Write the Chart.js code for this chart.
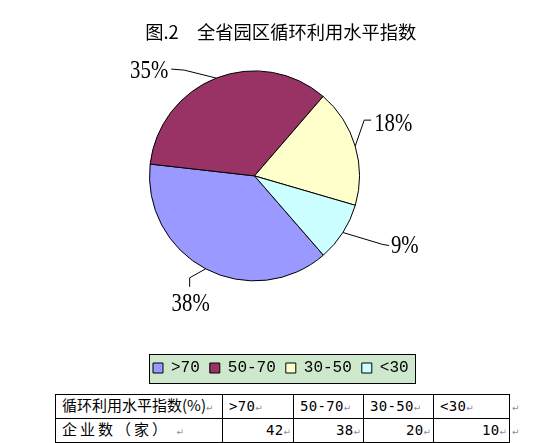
<!DOCTYPE html>
<html lang="zh">
<head>
<meta charset="utf-8">
<title>图.2 全省园区循环利用水平指数</title>
<script src="https://cdn.jsdelivr.net/npm/chart.js@4.4.0/dist/chart.umd.min.js"></script>
<style>
  html, body { margin: 0; padding: 0; background: #fff; }
  #page { position: relative; width: 547px; height: 443px; overflow: hidden; }
  #chart-box { position: absolute; left: 0; top: 0; width: 547px; height: 390px; }
  #data-table {
    position: absolute; left: 55px; top: 394px;
    border-collapse: collapse; table-layout: fixed;
    font-family: "Noto Sans CJK SC", sans-serif; font-size: 15px; color: #000;
  }
  #data-table td {
    border: 1px solid #000; height: 20px; line-height: 20px;
    padding: 0 2px 0 6px; white-space: nowrap; overflow: hidden;
  }
  #data-table td.num { text-align: right; padding-right: 2px; }
  #data-table td.tail { border: none; padding: 0 0 0 2px; }
  .lat { font-family: "DejaVu Sans Mono", monospace; font-size: 14px; letter-spacing: 0.3px; }
  .wide { letter-spacing: 3px; }
  .mark { color: #8a8aa8; font-family: "DejaVu Sans", sans-serif; font-size: 9px; }
</style>
</head>
<body>
<div id="page">
  <div id="chart-box"><canvas id="chart"></canvas></div>
  <table id="data-table">
    <colgroup>
      <col style="width:167px"><col style="width:71px"><col style="width:70px">
      <col style="width:70px"><col style="width:76px"><col style="width:14px">
    </colgroup>
    <tbody></tbody>
  </table>
</div>
<script>
const categories = [">70", "50-70", "30-50", "<30"];
const companyCounts = [42, 38, 20, 10];
const indexHeader = "循环利用水平指数(%)";
const countHeader = "企业数（家）";
const chartTitle = "图.2　全省园区循环利用水平指数";

const sliceColors = ["#9999ff", "#993366", "#ffffcc", "#ccffff"];

// leader lines: bend points and text spot, relative to the outer edge of each slice
const callouts = [
  { bends: [[-16, 9], [-16, 18]], text: [-15, 35], align: "center" },
  { bends: [[-32, -8], [-45, -9]], text: [-48, -7], align: "right" },
  { bends: [[9, -26], [16, -26]], text: [19, -22], align: "left" },
  { bends: [[40, 12], [46, 13]], text: [48, 14], align: "left" },
];

// pale green panel behind the legend
const legendPanel = {
  id: "legendPanel",
  beforeDraw(chart) {
    const boxes = chart.legend.legendHitBoxes;
    if (!boxes || !boxes.length) return;
    const first = boxes[0];
    const last = boxes[boxes.length - 1];
    const x0 = Math.round(first.left - 4) + 0.5;
    const x1 = Math.round(last.left + last.width + 6) + 0.5;
    const yc = first.top + first.height / 2;
    const y0 = Math.round(yc - 14.5) + 0.5;
    const y1 = Math.round(yc + 14.5) + 0.5;
    const ctx = chart.ctx;
    ctx.save();
    ctx.fillStyle = "#cde8cd";
    ctx.fillRect(x0, y0, x1 - x0, y1 - y0);
    ctx.strokeStyle = "#000";
    ctx.lineWidth = 1;
    ctx.strokeRect(x0, y0, x1 - x0, y1 - y0);
    ctx.restore();
  },
};

// percentage labels outside the pie with leader lines
const pieCallouts = {
  id: "pieCallouts",
  afterDatasetsDraw(chart) {
    const ctx = chart.ctx;
    const arcs = chart.getDatasetMeta(0).data;
    const values = chart.data.datasets[0].data;
    const total = values.reduce((a, b) => a + b, 0);
    ctx.save();
    ctx.strokeStyle = "#000";
    ctx.fillStyle = "#000";
    ctx.lineWidth = 1;
    ctx.font = "26px 'Liberation Serif'";
    ctx.textBaseline = "middle";
    arcs.forEach((arc, i) => {
      const c = callouts[i];
      const mid = (arc.startAngle + arc.endAngle) / 2;
      const ax = arc.x + Math.cos(mid) * arc.outerRadius;
      const ay = arc.y + Math.sin(mid) * arc.outerRadius;
      ctx.beginPath();
      ctx.moveTo(ax, ay);
      c.bends.forEach(([dx, dy]) => ctx.lineTo(ax + dx, ay + dy));
      ctx.stroke();
      const pct = Math.round((values[i] / total) * 100) + "%";
      ctx.save();
      ctx.translate(ax + c.text[0], ay + c.text[1]);
      ctx.scale(0.8, 1);
      ctx.textAlign = c.align;
      ctx.fillText(pct, 0, 0);
      ctx.restore();
    });
    ctx.restore();
  },
};

new Chart(document.getElementById("chart"), {
  type: "pie",
  data: {
    labels: categories,
    datasets: [
      {
        data: companyCounts,
        backgroundColor: sliceColors,
        borderColor: "#000",
        borderWidth: 1,
        hoverOffset: 0,
        rotation: 139,
        radius: 105,
      },
    ],
  },
  options: {
    responsive: true,
    maintainAspectRatio: false,
    animation: false,
    events: [],
    layout: { padding: { left: 14.6, right: 0, top: 0, bottom: 4 } },
    plugins: {
      title: {
        display: true,
        text: chartTitle,
        color: "#000",
        font: { family: "'Noto Sans CJK SC'", size: 18.3, weight: "normal" },
        padding: { top: 21, bottom: 10 },
      },
      // empty spacer on the right so the pie sits left of the title centre
      subtitle: {
        display: true,
        position: "right",
        text: " ",
        font: { size: 10 },
        padding: { top: 40.6, bottom: 0 },
      },
      legend: {
        position: "bottom",
        align: "center",
        title: { display: true, text: " ", font: { size: 10 }, padding: { top: 39.2, bottom: 0 } },
        labels: {
          boxWidth: 10,
          boxHeight: 10,
          padding: 10,
          color: "#000",
          font: { family: "'Liberation Mono'", size: 16 },
        },
      },
      tooltip: { enabled: false },
    },
  },
  plugins: [legendPanel, pieCallouts],
});

// data table under the chart
const tbody = document.querySelector("#data-table tbody");
const mark = '<span class="mark">↵</span>';

function addRow(head, cells, headClass, cellClass) {
  const tr = document.createElement("tr");
  let html = `<td><span class="${headClass}">${head}</span>${mark}</td>`;
  cells.forEach((v) => {
    html += `<td class="${cellClass}"><span class="lat">${v}</span>${mark}</td>`;
  });
  html += `<td class="tail">${mark}</td>`;
  tr.innerHTML = html;
  tbody.appendChild(tr);
}

addRow(indexHeader, categories.map((c) => c.replace("<", "&lt;").replace(">", "&gt;")), "", "");
addRow(countHeader + " ", companyCounts, "wide", "num");
</script>
</body>
</html>
